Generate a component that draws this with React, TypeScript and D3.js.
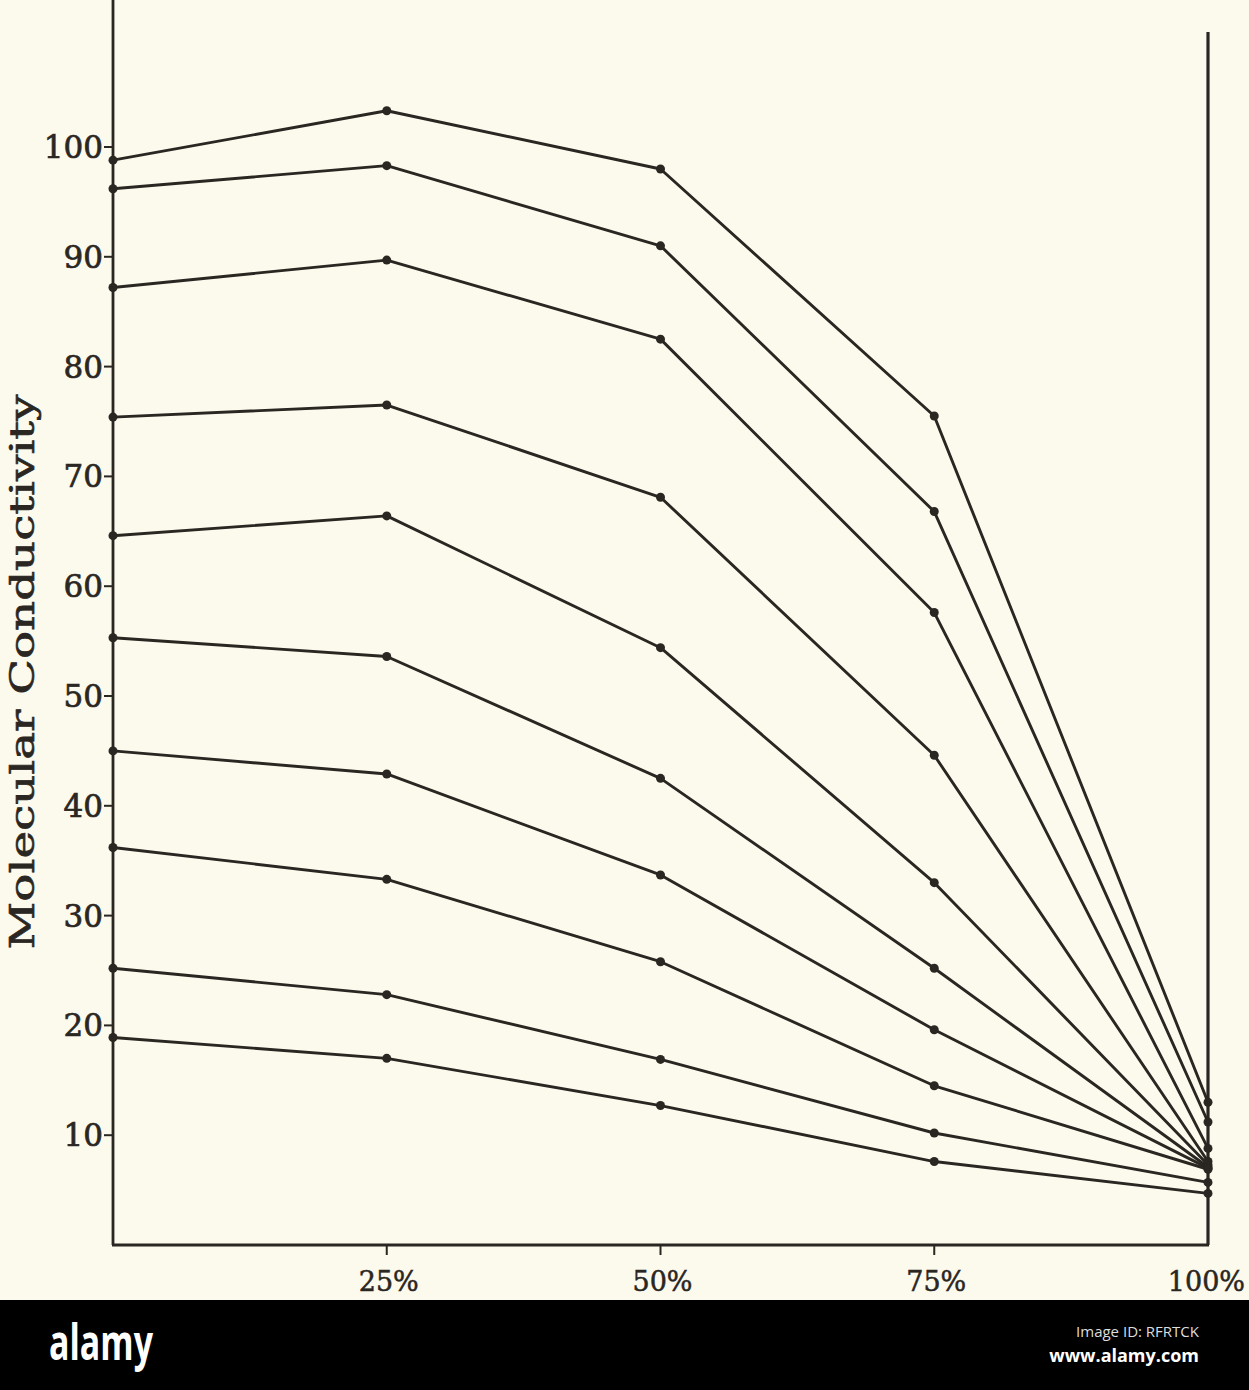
import React, { useEffect, useRef } from 'react'
import * as d3 from 'd3'

// fraction of the second component (x axis)
const percents = [0, 25, 50, 75, 100]
const xTickLabels = ['25%', '50%', '75%', '100%']
const yTicks = [10, 20, 30, 40, 50, 60, 70, 80, 90, 100]

// molecular conductivity curves, top to bottom
const curve1 = [98.8, 103.3, 98.0, 75.5, 13.0]
const curve2 = [96.2, 98.3, 91.0, 66.8, 11.2]
const curve3 = [87.2, 89.7, 82.5, 57.6, 8.8]
const curve4 = [75.4, 76.5, 68.1, 44.6, 7.6]
const curve5 = [64.6, 66.4, 54.4, 33.0, 7.3]
const curve6 = [55.3, 53.6, 42.5, 25.2, 7.1]
const curve7 = [45.0, 42.9, 33.7, 19.6, 7.0]
const curve8 = [36.2, 33.3, 25.8, 14.5, 6.9]
const curve9 = [25.2, 22.8, 16.9, 10.2, 5.7]
const curve10 = [18.9, 17.0, 12.7, 7.6, 4.7]

const curves = [curve1, curve2, curve3, curve4, curve5, curve6, curve7, curve8, curve9, curve10]

const W = 1249
const H = 1390
const INK = '#2a2622'
const PAPER = '#fcf9ed'
const FONT = '"DejaVu Serif", "Liberation Serif", serif'

const App = () => {
  const ref = useRef(null)

  useEffect(() => {
    if (!ref.current) return
    const svg = d3.select(ref.current)
    svg.selectAll('*').remove()

    svg.append('rect').attr('width', W).attr('height', H).attr('fill', PAPER)

    const x = d3.scaleLinear().domain([0, 100]).range([113, 1208])
    const y = d3.scaleLinear().domain([0, 100]).range([1245, 147])

    // left axis (runs up to the top edge) and bottom axis
    svg.append('line')
      .attr('x1', x(0)).attr('x2', x(0))
      .attr('y1', 0).attr('y2', y(0))
      .attr('stroke', INK).attr('stroke-width', 2.8)
    svg.append('line')
      .attr('x1', x(0) - 1).attr('x2', x(100) + 1)
      .attr('y1', y(0)).attr('y2', y(0))
      .attr('stroke', INK).attr('stroke-width', 3.2)
    // right boundary line
    svg.append('line')
      .attr('x1', x(100)).attr('x2', x(100))
      .attr('y1', 32).attr('y2', y(0))
      .attr('stroke', INK).attr('stroke-width', 3.2)

    const yAxis = svg.append('g')
    yAxis.selectAll('line.tick')
      .data(yTicks)
      .enter()
      .append('line')
      .attr('x1', x(0) - 9).attr('x2', x(0))
      .attr('y1', (d) => y(d)).attr('y2', (d) => y(d))
      .attr('stroke', INK).attr('stroke-width', 2)
    yAxis.selectAll('text')
      .data(yTicks)
      .enter()
      .append('text')
      .attr('x', x(0) - 10)
      .attr('y', (d) => y(d) + 11)
      .attr('text-anchor', 'end')
      .attr('font-family', FONT)
      .attr('font-size', 31)
      .attr('fill', INK)
      .attr('stroke', INK)
      .attr('stroke-width', 0.7)
      .text((d) => d)

    const xAxis = svg.append('g')
    xAxis.selectAll('line')
      .data(percents.slice(1, 4))
      .enter()
      .append('line')
      .attr('x1', (d) => x(d)).attr('x2', (d) => x(d))
      .attr('y1', y(0)).attr('y2', y(0) + 10)
      .attr('stroke', INK).attr('stroke-width', 2)
    xAxis.selectAll('text')
      .data(xTickLabels)
      .enter()
      .append('text')
      .attr('x', (d, i) => (i === 3 ? 1245 : x(percents[i + 1]) + 2))
      .attr('y', 1291)
      .attr('text-anchor', (d, i) => (i === 3 ? 'end' : 'middle'))
      .attr('font-family', FONT)
      .attr('font-size', 27)
      .attr('fill', INK)
      .attr('stroke', INK)
      .attr('stroke-width', 0.5)
      .text((d) => d)

    svg.append('text')
      .attr('transform', 'translate(34, 672) rotate(-90)')
      .attr('text-anchor', 'middle')
      .attr('font-family', FONT)
      .attr('font-size', 33)
      .attr('textLength', 555)
      .attr('lengthAdjust', 'spacingAndGlyphs')
      .attr('fill', INK)
      .attr('stroke', INK)
      .attr('stroke-width', 0.6)
      .text('Molecular Conductivity')

    const line = d3.line()
      .x((d, i) => x(percents[i]))
      .y((d) => y(d))

    const g = svg.append('g')
    g.selectAll('path')
      .data(curves)
      .enter()
      .append('path')
      .attr('d', (d) => line(d))
      .attr('fill', 'none')
      .attr('stroke', INK)
      .attr('stroke-width', 2.9)
      .attr('stroke-linejoin', 'round')

    curves.forEach((c) => {
      g.append('g')
        .selectAll('circle')
        .data(c)
        .enter()
        .append('circle')
        .attr('cx', (d, i) => x(percents[i]))
        .attr('cy', (d) => y(d))
        .attr('r', 4.5)
        .attr('fill', INK)
    })

    // stock photo footer band
    svg.append('rect').attr('x', 0).attr('y', 1300).attr('width', W).attr('height', 90).attr('fill', '#000')
    svg.append('text')
      .attr('x', 49).attr('y', 1360)
      .attr('font-family', '"Open Sans", sans-serif')
      .attr('font-weight', 'bold')
      .attr('font-size', 50)
      .attr('textLength', 104)
      .attr('lengthAdjust', 'spacingAndGlyphs')
      .attr('fill', '#fff')
      .text('alamy')
    svg.append('text')
      .attr('x', 1199).attr('y', 1337)
      .attr('text-anchor', 'end')
      .attr('font-family', '"Open Sans", sans-serif')
      .attr('font-size', 15)
      .attr('fill', '#ddd')
      .text('Image ID: RFRTCK')
    svg.append('text')
      .attr('x', 1199).attr('y', 1362)
      .attr('text-anchor', 'end')
      .attr('font-family', '"Open Sans", sans-serif')
      .attr('font-weight', 'bold')
      .attr('font-size', 18)
      .attr('fill', '#fff')
      .text('www.alamy.com')
  }, [])

  return (
    <svg
      ref={ref}
      width={W}
      height={H}
      style={{ position: 'absolute', left: 0, top: 0, display: 'block' }}
    />
  )
}

export default App
